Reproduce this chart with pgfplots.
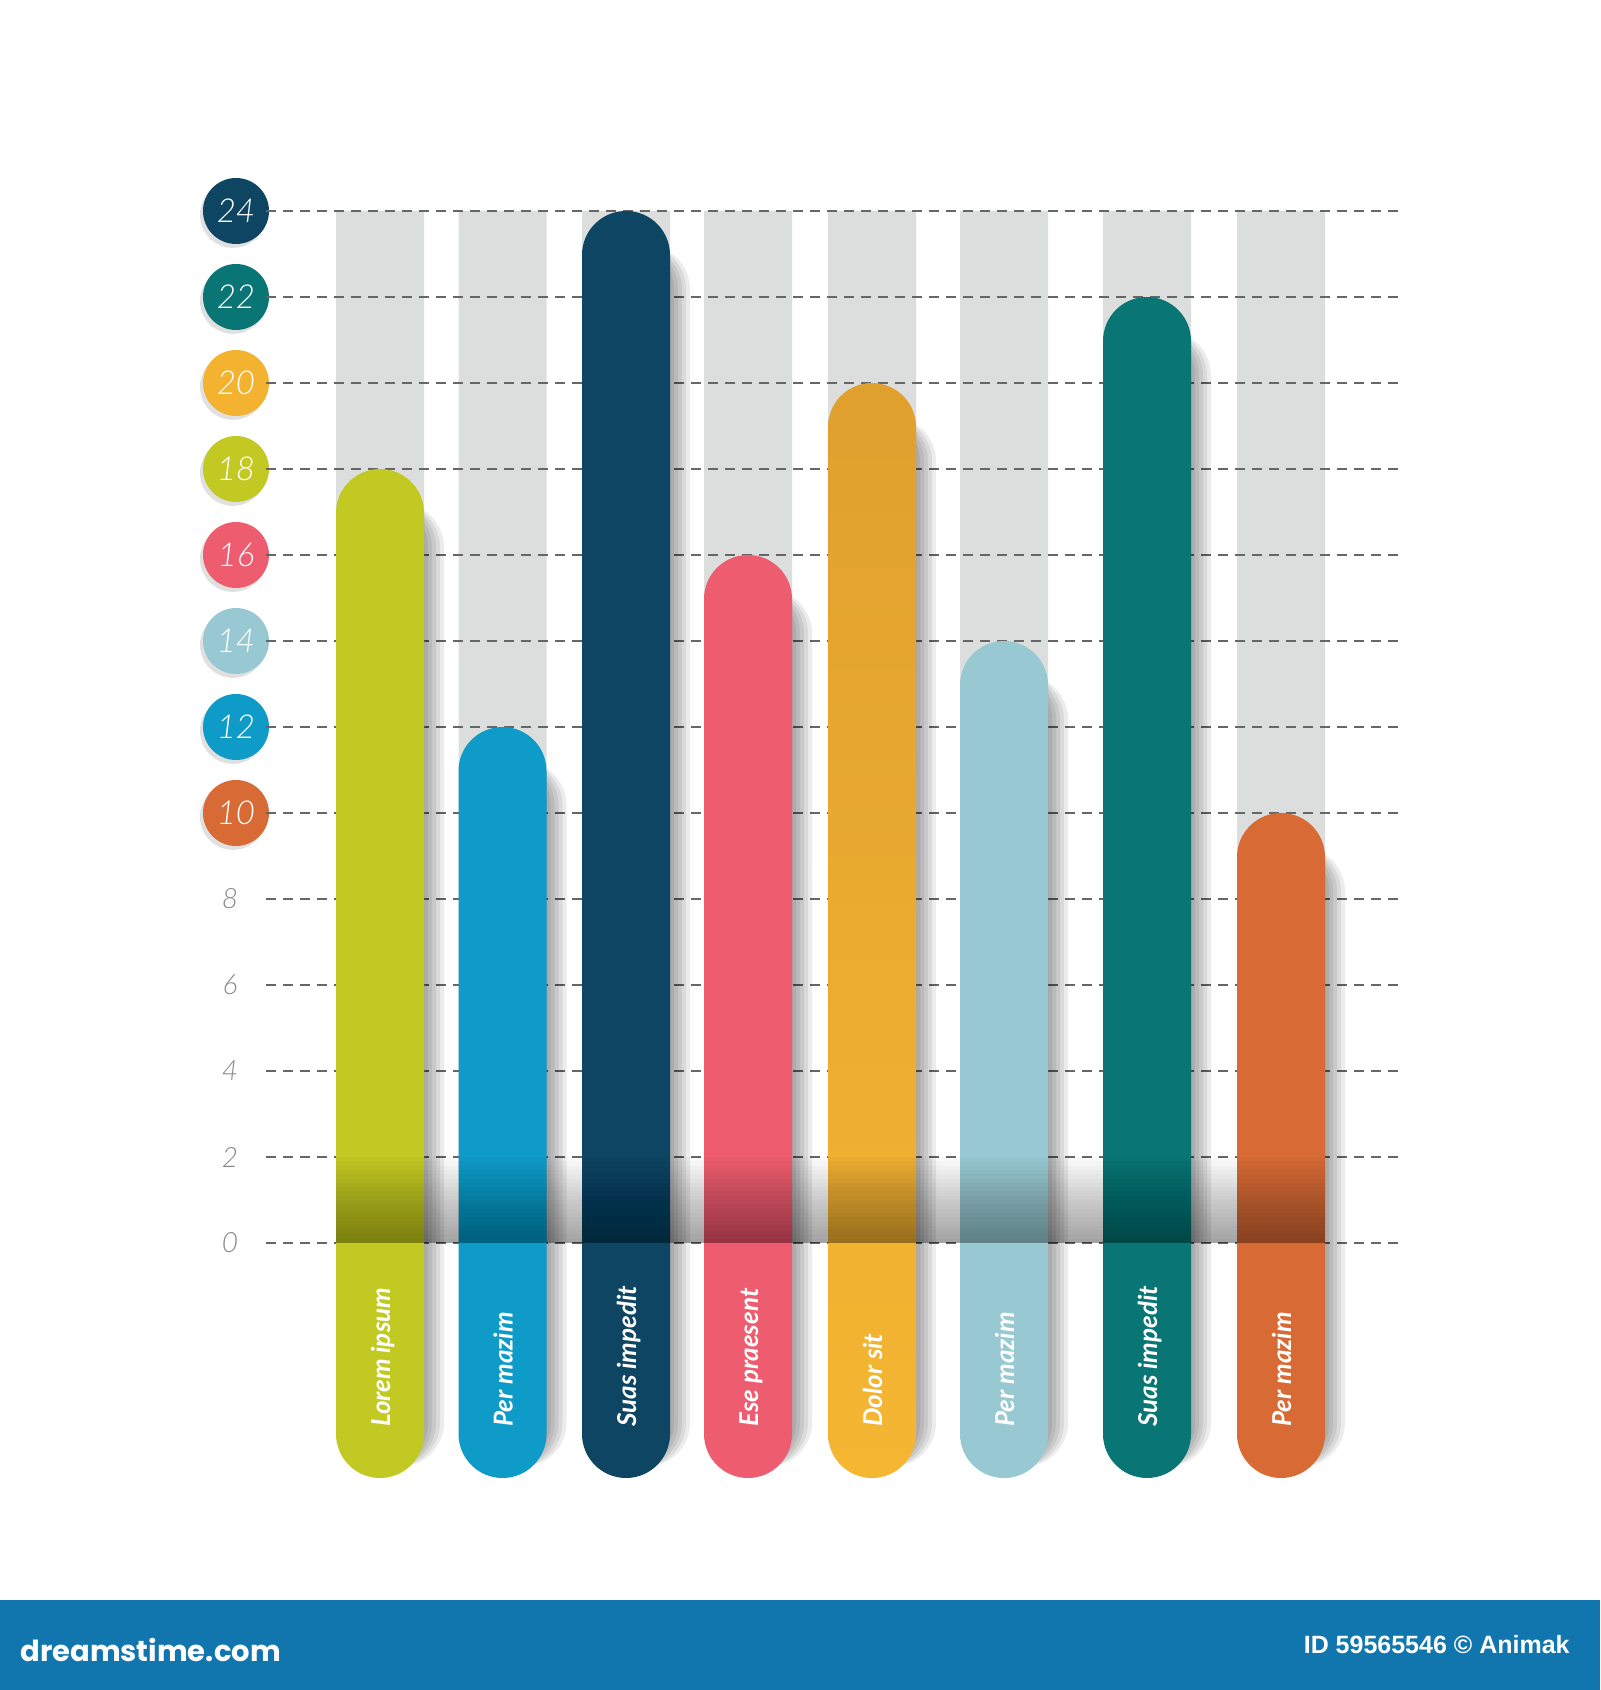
\documentclass[border=0pt]{standalone}
\usepackage{pgfplots}
\pgfplotsset{compat=1.18}
\usepackage{fontspec}
\setmainfont{Liberation Sans}
\newfontfamily\thinfont{Lato}[UprightFont={* Light}, ItalicFont={* Light Italic}]
\newfontfamily\labfont{Lato}
\newfontfamily\logofont{Poppins}
\definecolor{cLime}{HTML}{C3C923}
\definecolor{cBlue}{HTML}{0F9BC8}
\definecolor{cNavy}{HTML}{0E4562}
\definecolor{cPink}{HTML}{EE5C6F}
\definecolor{cOrT}{HTML}{E0A02E}
\definecolor{cOrB}{HTML}{F5B632}
\definecolor{cYel}{HTML}{F3B331}
\definecolor{cLB}{HTML}{98C9D3}
\definecolor{cTeal}{HTML}{0A7575}
\definecolor{cOr}{HTML}{D86B35}
\definecolor{colgray}{HTML}{DCDEDD}
\definecolor{gridgray}{HTML}{666666}
\definecolor{numgray}{HTML}{8A8A8A}
\definecolor{bandblue}{HTML}{1276AE}
\newcommand{\gnum}[1]{{\thinfont\itshape\fontsize{14}{14}\selectfont\color{numgray}#1\kern6pt}}
\newcommand{\cnum}[1]{{\thinfont\itshape\fontsize{16.5}{16.5}\selectfont\color{white}#1}}
\pgfplotsset{
  sh/.style={fill=black, fill opacity=0.075, draw=none, rounded corners=22pt, forget plot},
  pill/.style={draw=none, rounded corners=22pt, forget plot},
}
\tikzset{
  lab/.style={rotate=90, anchor=base west, inner sep=0pt, text=white,
    font=\labfont\bfseries\itshape\fontsize{13}{13}\selectfont},
}
\begin{document}
\begin{tikzpicture}
\begin{axis}[
  set layers,
  scale only axis, width=566pt, height=516pt,
  xmin=266, xmax=1398, ymin=0, ymax=24,
  clip=false,
  axis line style={draw=none}, tick style={draw=none},
  xtick=\empty,
  ytick={0,2,...,24},
  yticklabels={\gnum{0},\gnum{2},\gnum{4},\gnum{6},\gnum{8},\cnum{10},\cnum{12},\cnum{14},\cnum{16},\cnum{18},\cnum{20},\cnum{22},\cnum{24}},
  yticklabel style={anchor=center, xshift=-15pt, inner sep=0pt},
  ymajorgrids,
  grid style={draw=gridgray, line width=1pt, dash pattern=on 5pt off 3.5pt},
]
\begin{pgfonlayer}{axis background}
\fill[white] (axis cs:0,-10.3953) rectangle (axis cs:1600,28.907);
\foreach \v/\c in {10/cOr,12/cBlue,14/cLB,16/cPink,18/cLime,20/cYel,22/cTeal,24/cNavy}{
  \edef\tmp{\noexpand\fill[black,opacity=0.12] (axis cs:233,\v-0.09) circle[radius=16.5pt];
  \noexpand\fill[\c] (axis cs:236,\v) circle[radius=16.5pt];}\tmp
}
\end{pgfonlayer}
% grey background columns
\addplot[ybar, bar width=88, fill=colgray, draw=none, on layer=axis background, forget plot]
  coordinates {(380,24) (502.5,24) (626,24) (748,24) (872,24) (1004,24) (1147,24) (1281,24)};

% bar 1
\pgfplotsinvokeforeach{2,4,6,8,10}{\addplot[sh, xshift=#1pt] coordinates {(380,-5.2) (424,-5.2) (424,17.2) (336,17.2) (336,-5.2) (380,-5.2)};}
\addplot[pill, fill=cLime] coordinates {(380,-5.465) (424,-5.465) (424,18) (336,18) (336,-5.465) (380,-5.465)};
% bar 2
\pgfplotsinvokeforeach{2,4,6,8,10}{\addplot[sh, xshift=#1pt] coordinates {(502.5,-5.2) (546.5,-5.2) (546.5,11.2) (458.5,11.2) (458.5,-5.2) (502.5,-5.2)};}
\addplot[pill, fill=cBlue] coordinates {(502.5,-5.465) (546.5,-5.465) (546.5,12) (458.5,12) (458.5,-5.465) (502.5,-5.465)};
% bar 3
\pgfplotsinvokeforeach{2,4,6,8,10}{\addplot[sh, xshift=#1pt] coordinates {(626,-5.2) (670,-5.2) (670,23.2) (582,23.2) (582,-5.2) (626,-5.2)};}
\addplot[pill, fill=cNavy] coordinates {(626,-5.465) (670,-5.465) (670,24) (582,24) (582,-5.465) (626,-5.465)};
% bar 4
\pgfplotsinvokeforeach{2,4,6,8,10}{\addplot[sh, xshift=#1pt] coordinates {(748,-5.2) (792,-5.2) (792,15.2) (704,15.2) (704,-5.2) (748,-5.2)};}
\addplot[pill, fill=cPink] coordinates {(748,-5.465) (792,-5.465) (792,16) (704,16) (704,-5.465) (748,-5.465)};
% bar 5
\pgfplotsinvokeforeach{2,4,6,8,10}{\addplot[sh, xshift=#1pt] coordinates {(872,-5.2) (916,-5.2) (916,19.2) (828,19.2) (828,-5.2) (872,-5.2)};}
\addplot[pill, top color=cOrT, bottom color=cOrB] coordinates {(872,-5.465) (916,-5.465) (916,20) (828,20) (828,-5.465) (872,-5.465)};
% bar 6
\pgfplotsinvokeforeach{2,4,6,8,10}{\addplot[sh, xshift=#1pt] coordinates {(1004,-5.2) (1048,-5.2) (1048,13.2) (960,13.2) (960,-5.2) (1004,-5.2)};}
\addplot[pill, fill=cLB] coordinates {(1004,-5.465) (1048,-5.465) (1048,14) (960,14) (960,-5.465) (1004,-5.465)};
% bar 7
\pgfplotsinvokeforeach{2,4,6,8,10}{\addplot[sh, xshift=#1pt] coordinates {(1147,-5.2) (1191,-5.2) (1191,21.2) (1103,21.2) (1103,-5.2) (1147,-5.2)};}
\addplot[pill, fill=cTeal] coordinates {(1147,-5.465) (1191,-5.465) (1191,22) (1103,22) (1103,-5.465) (1147,-5.465)};
% bar 8
\pgfplotsinvokeforeach{2,4,6,8,10}{\addplot[sh, xshift=#1pt] coordinates {(1281,-5.2) (1325,-5.2) (1325,9.2) (1237,9.2) (1237,-5.2) (1281,-5.2)};}
\addplot[pill, fill=cOr] coordinates {(1281,-5.465) (1325,-5.465) (1325,10) (1237,10) (1237,-5.465) (1281,-5.465)};

% shadow band above the zero line
\pgfplotsinvokeforeach{0.1,0.2,0.3,0.4,0.5,0.6,0.7,0.8,0.9,1.0,1.1,1.2,1.3,1.4,1.5,1.6,1.7,1.8,1.9,2.0}{
  \fill[black, fill opacity=0.02] (axis cs:336,0) rectangle (axis cs:1325,#1);
}

% bar labels
\node[lab] at (axis cs:390,-4.28) {Lorem ipsum};
\node[lab] at (axis cs:512.5,-4.28) {Per mazim};
\node[lab] at (axis cs:636,-4.28) {Suas impedit};
\node[lab] at (axis cs:758,-4.28) {Ese praesent};
\node[lab] at (axis cs:882,-4.28) {Dolor sit};
\node[lab] at (axis cs:1014,-4.28) {Per mazim};
\node[lab] at (axis cs:1157,-4.28) {Suas impedit};
\node[lab] at (axis cs:1291,-4.28) {Per mazim};

% bottom banner
\fill[bandblue] (axis cs:0,-8.302) rectangle (axis cs:1600,-10.3953);
\node[anchor=base west, inner sep=0pt, text=white, font=\logofont\bfseries\fontsize{14.5}{14.5}\selectfont]
  at (axis cs:20,-9.744) {dreamstime.com};
\node[anchor=base east, inner sep=0pt, text=white, font=\bfseries\fontsize{12.5}{12.5}\selectfont]
  at (axis cs:1570,-9.535) {ID 59565546 \textcopyright{} Animak};
\end{axis}
\end{tikzpicture}
\end{document}
